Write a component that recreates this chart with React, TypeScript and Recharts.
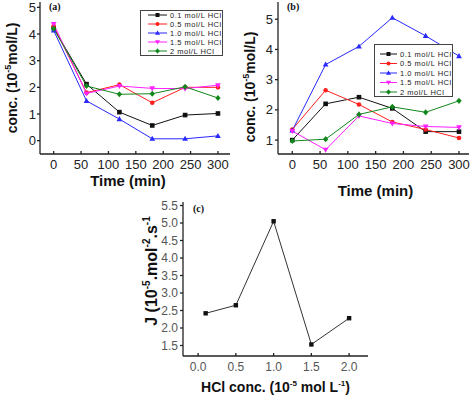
import React from 'react';
import { LineChart, Line, XAxis, YAxis, Label, Legend } from 'recharts';

const times = [0, 60, 120, 180, 240, 300];
const timeTicks = [0, 50, 100, 150, 200, 250, 300];
const seriesKeys = ['s01', 's05', 's10', 's15', 's20'];
const seriesNames = ['0.1 mol/L HCl', '0.5 mol/L HCl', '1.0 mol/L HCl', '1.5 mol/L HCl', '2 mol/L HCl'];
const seriesColors = ['#111111', '#ff1f1f', '#2828ff', '#ff1fff', '#10871a'];
const seriesMarkers = ['square', 'circle', 'triangle', 'triangleDown', 'diamond'];

// (a)
const a01 = [4.22, 2.12, 1.07, 0.57, 0.96, 1.02];
const a05 = [4.3, 1.8, 2.1, 1.42, 2.0, 2.0];
const a10 = [4.13, 1.49, 0.81, 0.07, 0.07, 0.18];
const a15 = [4.37, 1.77, 2.05, 1.96, 1.95, 2.08];
const a20 = [4.2, 2.05, 1.74, 1.76, 2.02, 1.6];

// (b)
const b01 = [1.0, 2.2, 2.42, 2.05, 1.28, 1.28];
const b05 = [1.35, 2.65, 2.18, 1.6, 1.35, 1.07];
const b10 = [1.32, 3.5, 4.1, 5.05, 4.45, 3.78];
const b15 = [1.3, 0.68, 1.8, 1.55, 1.45, 1.42];
const b20 = [0.97, 1.03, 1.85, 2.1, 1.92, 2.3];

// (c)
const hclConc = [0.1, 0.5, 1.0, 1.5, 2.0];
const fluxJ = [2.42, 2.65, 5.05, 1.53, 2.28];
const fluxTicks = [1.5, 2, 2.5, 3, 3.5, 4, 4.5, 5, 5.5];

const SANS = '"Liberation Sans", Arial, sans-serif';
const SERIF = '"Liberation Serif", "Times New Roman", serif';

const buildRows = (cols: number[][]) =>
  times.map((t, i) => {
    const row: any = { t };
    seriesKeys.forEach((k, j) => (row[k] = cols[j][i]));
    return row;
  });

const rowsA = buildRows([a01, a05, a10, a15, a20]);
const rowsB = buildRows([b01, b05, b10, b15, b20]);
const rowsC = hclConc.map((c, i) => ({ c, j: fluxJ[i] }));

function Marker({ cx, cy, shape, color, s = 2.3 }: any) {
  if (cx == null || cy == null) return null;
  switch (shape) {
    case 'circle':
      return <circle cx={cx} cy={cy} r={s} fill={color} />;
    case 'triangle':
      return <path d={`M${cx},${cy - s * 1.3} L${cx + s * 1.25},${cy + s * 0.9} L${cx - s * 1.25},${cy + s * 0.9} Z`} fill={color} />;
    case 'triangleDown':
      return <path d={`M${cx},${cy + s * 1.3} L${cx + s * 1.25},${cy - s * 0.9} L${cx - s * 1.25},${cy - s * 0.9} Z`} fill={color} />;
    case 'diamond':
      return <path d={`M${cx},${cy - s * 1.35} L${cx + s * 1.15},${cy} L${cx},${cy + s * 1.35} L${cx - s * 1.15},${cy} Z`} fill={color} />;
    default:
      return <rect x={cx - s} y={cy - s} width={2 * s} height={2 * s} fill={color} />;
  }
}

// axis title: parts are [text, isSuperscript]
const axisTitle = (parts: [string, boolean][], opt: { vertical?: boolean; off: number; shift?: number; size: number; supSize: number }) =>
  (props: any) => {
    const vb = props.viewBox || {};
    const sup = Math.round(opt.size * 0.42);
    const spans: any[] = [];
    let up = false;
    parts.forEach(([txt, isSup], i) => {
      let dy = 0;
      if (isSup && !up) { dy = -sup; up = true; }
      else if (!isSup && up) { dy = sup; up = false; }
      spans.push(
        <tspan key={i} dy={dy} fontSize={isSup ? opt.supSize : opt.size}>{txt}</tspan>
      );
    });
    if (opt.vertical) {
      const x = vb.x + opt.off;
      const y = vb.y + vb.height / 2 + (opt.shift || 0);
      return (
        <text x={x} y={y} transform={`rotate(-90, ${x}, ${y})`} textAnchor="middle" fontFamily={SANS} fontWeight="bold" fill="#111">
          {spans}
        </text>
      );
    }
    const x = vb.x + vb.width / 2 + (opt.shift || 0);
    const y = vb.y + opt.off;
    return (
      <text x={x} y={y} textAnchor="middle" fontFamily={SANS} fontWeight="bold" fill="#111">
        {spans}
      </text>
    );
  };

const legendBox = (w: number, h: number, y0: number, dy: number, lx0: number, lx1: number, tx: number) => () => (
  <svg width={w} height={h} style={{ display: 'block' }}>
    <rect x={0.5} y={0.5} width={w - 1} height={h - 1} fill="#fff" stroke="#444" strokeWidth={1} />
    {seriesNames.map((name, i) => {
      const y = y0 + i * dy;
      return (
        <g key={name}>
          <line x1={lx0} x2={lx1} y1={y} y2={y} stroke={seriesColors[i]} strokeWidth={1} />
          <Marker cx={(lx0 + lx1) / 2} cy={y} shape={seriesMarkers[i]} color={seriesColors[i]} s={2} />
          <text x={tx} y={y} dy="0.35em" fontSize={7.5} letterSpacing={0.5} fontFamily={SANS} fill="#222">{name}</text>
        </g>
      );
    })}
  </svg>
);

const axisStyle = { stroke: '#222', strokeWidth: 1.3 };
const tickStyle = { fontSize: 13, fill: '#222', fontFamily: SANS };

const concTitle = (off: number, shift: number) =>
  axisTitle([['conc. (10', false], ['-5', true], ['mol/L)', false]], { vertical: true, off, shift, size: 14, supSize: 9 });
const timeTitle = (off: number, shift: number) => axisTitle([['Time (min)', false]], { off, shift, size: 15, supSize: 9 });

const seriesLines = (prefix: string) =>
  seriesKeys.map((k, i) => (
    <Line
      key={k}
      dataKey={k}
      stroke={seriesColors[i]}
      strokeWidth={1}
      isAnimationActive={false}
      activeDot={false}
      dot={(p: any) => <Marker key={`${prefix}-${k}-${p.index}`} cx={p.cx} cy={p.cy} shape={seriesMarkers[i]} color={seriesColors[i]} />}
    />
  ));

const panelTag = (txt: string, left: number, top: number) => (
  <div style={{ position: 'absolute', left, top, fontFamily: SERIF, fontWeight: 'bold', fontSize: 10, lineHeight: '10px', color: '#111' }}>{txt}</div>
);

export default function App() {
  return (
    <div style={{ position: 'absolute', left: 0, top: 0, width: 474, height: 395, background: '#fff', overflow: 'hidden' }}>
      <div style={{ position: 'absolute', left: 0, top: 0 }}>
        <LineChart width={240} height={200} data={rowsA} margin={{ top: 2, right: 10, bottom: 0, left: 0 }}>
          <XAxis dataKey="t" type="number" domain={[-25, 322]} ticks={timeTicks} interval={0} allowDataOverflow height={46}
            tickSize={-3} tickMargin={9} axisLine={axisStyle} tickLine={axisStyle} tick={tickStyle}>
            <Label content={timeTitle(31.5, -7)} />
          </XAxis>
          <YAxis type="number" domain={[-0.5, 5.2]} ticks={[0, 1, 2, 3, 4, 5]} interval={0} allowDataOverflow width={40}
            tickSize={3} tickMargin={1} axisLine={axisStyle} tickLine={axisStyle} tick={tickStyle}>
            <Label content={concTitle(17, 0)} />
          </YAxis>
          <Legend layout="vertical" align="center" verticalAlign="middle" width={83}
            wrapperStyle={{ left: 140, top: 10, width: 83, height: 46 }}
            content={legendBox(83, 46, 5, 9, 8, 27, 30)} />
          {seriesLines('a')}
        </LineChart>
      </div>

      <div style={{ position: 'absolute', left: 234, top: 0 }}>
        <LineChart width={240} height={200} data={rowsB} margin={{ top: 2, right: 5, bottom: 0, left: 0 }}>
          <XAxis dataKey="t" type="number" domain={[-25.7, 318]} ticks={timeTicks} interval={0} allowDataOverflow height={46}
            tickSize={-3} tickMargin={9} axisLine={axisStyle} tickLine={axisStyle} tick={tickStyle}>
            <Label content={timeTitle(41.5, 2)} />
          </XAxis>
          <YAxis type="number" domain={[0.54, 5.57]} ticks={[1, 2, 3, 4, 5]} interval={0} allowDataOverflow width={44}
            tickSize={3} tickMargin={2} axisLine={axisStyle} tickLine={axisStyle} tick={tickStyle}>
            <Label content={concTitle(21, 9)} />
          </YAxis>
          <Legend layout="vertical" align="center" verticalAlign="middle" width={79}
            wrapperStyle={{ left: 140, top: 44, width: 79, height: 53 }}
            content={legendBox(79, 53, 10, 9.5, 6, 23, 26)} />
          {seriesLines('b')}
        </LineChart>
      </div>

      <div style={{ position: 'absolute', left: 90, top: 195 }}>
        <LineChart width={290} height={200} data={rowsC} margin={{ top: 7, right: 12, bottom: 0, left: 0 }}>
          <XAxis dataKey="c" type="number" domain={[-0.2, 2.25]} ticks={[0, 0.5, 1, 1.5, 2]} interval={0} allowDataOverflow height={39}
            tickFormatter={(v: number) => v.toFixed(1)}
            tickSize={-3} tickMargin={9} axisLine={axisStyle} tickLine={axisStyle}
            tick={{ fontSize: 12, fill: '#555', fontFamily: SANS }}>
            <Label content={axisTitle([['HCl conc. (10', false], ['-5', true], [' mol L', false], ['-1', true], [')', false]], { off: 36, size: 14, supSize: 8 })} />
          </XAxis>
          <YAxis type="number" domain={[1.2, 5.6]} ticks={fluxTicks} interval={0} allowDataOverflow width={93}
            tickFormatter={(v: number) => v.toFixed(1)}
            tickSize={3} tickMargin={2} axisLine={axisStyle} tickLine={axisStyle}
            tick={{ fontSize: 12, fill: '#555', fontFamily: SANS }}>
            <Label content={axisTitle([['J (10', false], ['-5', true], ['.mol', false], ['-2', true], ['.s', false], ['-1', true]], { vertical: true, off: 67, shift: -8, size: 16, supSize: 10 })} />
          </YAxis>
          <Line dataKey="j" stroke="#333" strokeWidth={1} isAnimationActive={false} activeDot={false}
            dot={(p: any) => <Marker key={`c-${p.index}`} cx={p.cx} cy={p.cy} shape="square" color="#111" s={2.2} />} />
        </LineChart>
      </div>

      {panelTag('(a)', 49, 2)}
      {panelTag('(b)', 287, 2)}
      {panelTag('(c)', 193, 204)}
    </div>
  );
}
